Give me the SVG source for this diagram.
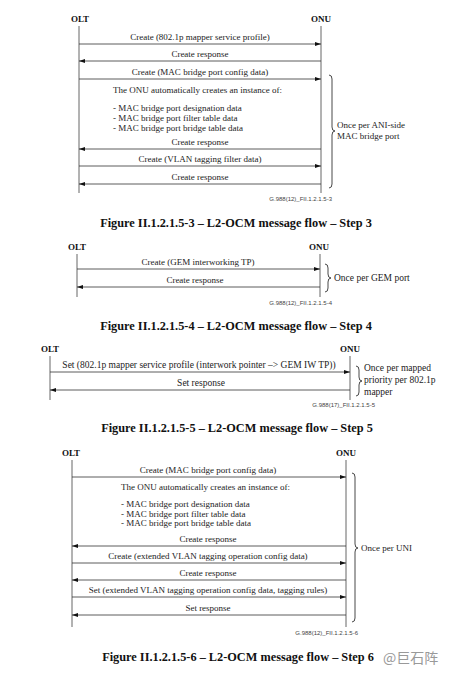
<svg xmlns="http://www.w3.org/2000/svg" width="454" height="674" viewBox="0 0 454 674">
<style>
.bg{fill:#fff}
.life{stroke:#555;stroke-width:0.9;fill:none}
.msg{stroke:#333;stroke-width:0.8;fill:none}
.brace{stroke:#333;stroke-width:0.9;fill:none}
.hd{font-family:"Liberation Serif",serif;font-weight:bold;font-size:9px;fill:#111;text-anchor:middle}
.t{font-family:"Liberation Serif",serif;font-size:9px;fill:#222}
.t5{font-family:"Liberation Serif",serif;font-size:9.5px;fill:#222}
.c{text-anchor:middle}
.code{font-family:"Liberation Sans",sans-serif;font-size:6px;fill:#444;text-anchor:end}
.cap{font-family:"Liberation Serif",serif;font-weight:bold;font-size:12.3px;fill:#111;text-anchor:middle}
.wm{font-family:"Noto Sans CJK SC",sans-serif;font-size:14px;fill:#999}
</style>
<defs>
<marker id="ah" viewBox="0 0 6 4" refX="6" refY="2" markerWidth="6" markerHeight="4" markerUnits="userSpaceOnUse" orient="auto">
<path d="M0,0 L6,2 L0,4 Z" fill="#111"/>
</marker>
</defs>
<rect class="bg" x="0" y="0" width="454" height="674"/>

<!-- Figure step 3 -->
<g id="fig3-olt"><text class="hd" x="80" y="22">OLT</text><line class="life" x1="79" y1="26" x2="79" y2="193"/></g>
<g id="fig3-onu"><text class="hd" x="321" y="22">ONU</text><line class="life" x1="321" y1="26" x2="321" y2="193"/></g>
<g id="fig3-note" class="t">
<text x="113" y="93">The ONU automatically creates an instance of:</text>
<text x="113" y="111">- MAC bridge port designation data</text>
<text x="113" y="121">- MAC bridge port filter table data</text>
<text x="113" y="131">- MAC bridge port bridge table data</text>
</g>
<g id="fig3-loop">
<path class="brace" d="M329,75 Q332,75 332,79 L332,127 Q332,131 335,131 Q332,131 332,135 L332,184 Q332,188 329,188"/>
<text class="t" x="337" y="128">Once per ANI-side</text>
<text class="t" x="337" y="139">MAC bridge port</text>
</g>
<text class="code" x="332" y="201">G.988(12)_FII.1.2.1.5-3</text>
<text class="cap" x="236" y="227">Figure II.1.2.1.5-3 – L2-OCM message flow – Step 3</text>

<!-- Figure step 4 -->
<g id="fig4-olt"><text class="hd" x="77" y="250">OLT</text><line class="life" x1="77" y1="254" x2="77" y2="297"/></g>
<g id="fig4-onu"><text class="hd" x="319" y="250">ONU</text><line class="life" x1="320" y1="254" x2="320" y2="297"/></g>
<g id="fig4-loop">
<path class="brace" d="M325,264 Q328,264 328,268 L328,274 Q328,278 331,278 Q328,278 328,282 L328,288 Q328,292 325,292"/>
<text class="t5" x="334" y="281">Once per GEM port</text>
</g>
<text class="code" x="332" y="305">G.988(12)_FII.1.2.1.5-4</text>
<text class="cap" x="236" y="330">Figure II.1.2.1.5-4 – L2-OCM message flow – Step 4</text>

<!-- Figure step 5 -->
<g id="fig5-olt"><text class="hd" x="50" y="352">OLT</text><line class="life" x1="50" y1="356" x2="50" y2="400"/></g>
<g id="fig5-onu"><text class="hd" x="350" y="352">ONU</text><line class="life" x1="350" y1="356" x2="350" y2="400"/></g>
<g id="fig5-loop">
<path class="brace" d="M356,366 Q359,366 359,370 L359,377 Q359,381 362,381 Q359,381 359,385 L359,392 Q359,396 356,396"/>
<text class="t5" x="364" y="371">Once per mapped</text>
<text class="t5" x="364" y="383">priority per 802.1p</text>
<text class="t5" x="364" y="395">mapper</text>
</g>
<text class="code" x="375" y="407">G.988(17)_FII.1.2.1.5-5</text>
<text class="cap" x="237" y="432">Figure II.1.2.1.5-5 – L2-OCM message flow – Step 5</text>

<!-- Figure step 6 -->
<g id="fig6-olt"><text class="hd" x="71" y="456">OLT</text><line class="life" x1="72" y1="460" x2="72" y2="627"/></g>
<g id="fig6-onu"><text class="hd" x="346" y="456">ONU</text><line class="life" x1="346" y1="460" x2="346" y2="627"/></g>
<g id="fig6-note" class="t">
<text x="121" y="490">The ONU automatically creates an instance of:</text>
<text x="121" y="507">- MAC bridge port designation data</text>
<text x="121" y="516.5">- MAC bridge port filter table data</text>
<text x="121" y="526">- MAC bridge port bridge table data</text>
</g>
<g id="fig6-loop">
<path class="brace" d="M352,473 Q355,473 355,477 L355,544 Q355,548 358,548 Q355,548 355,552 L355,618 Q355,622 352,622"/>
<text class="t" x="361" y="551">Once per UNI</text>
</g>
<text class="code" x="358" y="635">G.988(12)_FII.1.2.1.5-6</text>
<text class="cap" x="238" y="661">Figure II.1.2.1.5-6 – L2-OCM message flow – Step 6</text>
<text class="wm" x="383" y="663">@巨石阵</text>

<!-- Connectors -->
<g id="connectors">
<line class="msg" x1="79" y1="44" x2="321" y2="44" marker-end="url(#ah)"/>
<text class="t c" x="200" y="40">Create (802.1p mapper service profile)</text>
<line class="msg" x1="321" y1="61" x2="79" y2="61" marker-end="url(#ah)"/>
<text class="t c" x="200" y="57">Create response</text>
<line class="msg" x1="79" y1="79" x2="321" y2="79" marker-end="url(#ah)"/>
<text class="t c" x="200" y="75">Create (MAC bridge port config data)</text>
<line class="msg" x1="321" y1="149" x2="79" y2="149" marker-end="url(#ah)"/>
<text class="t c" x="200" y="145">Create response</text>
<line class="msg" x1="79" y1="166" x2="321" y2="166" marker-end="url(#ah)"/>
<text class="t c" x="200" y="162">Create (VLAN tagging filter data)</text>
<line class="msg" x1="321" y1="184" x2="79" y2="184" marker-end="url(#ah)"/>
<text class="t c" x="200" y="180">Create response</text>

<line class="msg" x1="77" y1="269" x2="320" y2="269" marker-end="url(#ah)"/>
<text class="t c" x="198" y="265">Create (GEM interworking TP)</text>
<line class="msg" x1="320" y1="287" x2="77" y2="287" marker-end="url(#ah)"/>
<text class="t c" x="195" y="283">Create response</text>

<line class="msg" x1="50" y1="372" x2="350" y2="372" marker-end="url(#ah)"/>
<text class="t5 c" x="199" y="368">Set (802.1p mapper service profile (interwork pointer –&gt; GEM IW TP))</text>
<line class="msg" x1="350" y1="390" x2="50" y2="390" marker-end="url(#ah)"/>
<text class="t5 c" x="201" y="386">Set response</text>

<line class="msg" x1="72" y1="477" x2="346" y2="477" marker-end="url(#ah)"/>
<text class="t c" x="208" y="473">Create (MAC bridge port config data)</text>
<line class="msg" x1="346" y1="546" x2="72" y2="546" marker-end="url(#ah)"/>
<text class="t c" x="208" y="542">Create response</text>
<line class="msg" x1="72" y1="563" x2="346" y2="563" marker-end="url(#ah)"/>
<text class="t c" x="208" y="559">Create (extended VLAN tagging operation config data)</text>
<line class="msg" x1="346" y1="580" x2="72" y2="580" marker-end="url(#ah)"/>
<text class="t c" x="208" y="576">Create response</text>
<line class="msg" x1="72" y1="597" x2="346" y2="597" marker-end="url(#ah)"/>
<text class="t c" x="208" y="593">Set (extended VLAN tagging operation config data, tagging rules)</text>
<line class="msg" x1="346" y1="615" x2="72" y2="615" marker-end="url(#ah)"/>
<text class="t c" x="208" y="611">Set response</text>
</g>
</svg>
